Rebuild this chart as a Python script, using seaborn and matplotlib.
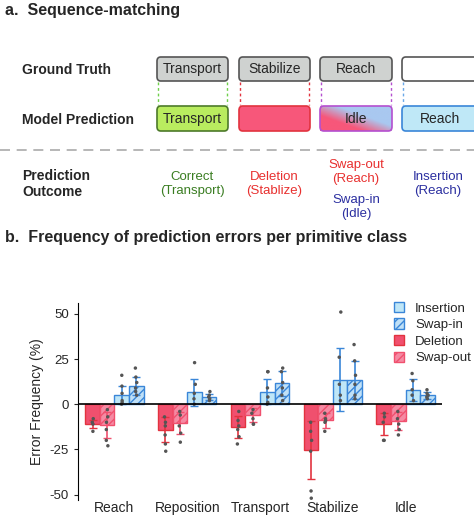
import matplotlib
matplotlib.use("Agg")
import matplotlib.pyplot as plt
import seaborn as sns
import pandas as pd
import numpy as np
from matplotlib.patches import FancyBboxPatch, Patch
from matplotlib.lines import Line2D
from matplotlib.colors import LinearSegmentedColormap

sns.set_style("white")
plt.rcParams['font.family'] = ['Liberation Sans', 'DejaVu Sans']

classes = ["Reach", "Reposition", "Transport", "Stabilize", "Idle"]
types = ["Deletion", "Swap-out", "Insertion", "Swap-in"]
means = {
    "Deletion": [-11, -14, -12.5, -25.5, -11],
    "Swap-out": [-11.5, -10.5, -6, -9, -9.5],
    "Insertion": [5, 6.5, 7, 13.5, 8],
    "Swap-in": [10, 4, 11.5, 13.5, 5],
}
errs = {
    "Deletion": [2, 7, 6, 16, 6],
    "Swap-out": [7, 6, 4, 4, 5],
    "Insertion": [5, 7.5, 7, 17.5, 6],
    "Swap-in": [5, 1.5, 7, 10.5, 2],
}
points = {
    "Deletion": [[-8, -10, -11, -15], [-7, -10, -12, -17, -22, -26], [-4, -9, -12, -14, -18, -22],
                 [-10, -15, -20, -26, -48, -52], [-5, -7, -10, -20, -20]],
    "Swap-out": [[-3, -7, -10, -14, -20, -23], [-4, -6, -12, -16, -21], [-3, -5, -8, -11, -11],
                 [-5, -8, -9, -10, -15], [-4, -8, -11, -14, -17]],
    "Insertion": [[0, 1, 2, 6, 10, 16], [0, 3, 6, 11, 23], [0, 1, 4, 9, 18, 18],
                  [2, 5, 11, 26, 51], [2, 5, 8, 13, 17]],
    "Swap-in": [[5, 7, 9, 12, 15, 20], [2, 3, 4, 5, 7], [2, 5, 9, 12, 18, 20],
                [3, 5, 11, 16, 24, 33], [3, 4, 5, 6, 8]],
}
face = {"Deletion": "#f0506e", "Swap-out": "#f58aa3", "Insertion": "#bfe6f7", "Swap-in": "#bfe0f7"}
edge = {"Deletion": "#e2333f", "Swap-out": "#f0506e", "Insertion": "#3a86d8", "Swap-in": "#3a86d8"}
hatch = {"Deletion": None, "Swap-out": "////", "Insertion": None, "Swap-in": "////"}

fig = plt.figure(figsize=(4.74, 5.2), dpi=100)
W, H = 474, 520
def fx(x): return x / W
def fy(y): return 1 - y / H

# ---------- panel a ----------
fig.text(fx(5), fy(10), "a.  Sequence-matching", fontsize=11.5, fontweight="bold", va="center")
fig.text(fx(22), fy(70), "Ground Truth", fontsize=10, fontweight="bold", va="center")
fig.text(fx(22), fy(120), "Model Prediction", fontsize=10, fontweight="bold", va="center")
fig.text(fx(22), fy(184), "Prediction\nOutcome", fontsize=10, fontweight="bold", va="center", linespacing=1.2)

xs = [(157, 228), (239, 310), (320, 392), (402, 478)]
gt = [("Transport", "#cfd2d0"), ("Stabilize", "#cfd2d0"), ("Reach", "#cfd2d0"), ("", "white")]
pred = [("Transport", "#b9ec5f", "#4d7a2a"), ("", "#f7577a", "#e2333f"), ("Idle", None, "#b44fd0"),
        ("Reach", "#bfe8f7", "#3a86d8")]
conn = ["#6fd04a", "#e2333f", "#b44fd0", "#6aa8e8"]

def box(x0, x1, y0, y1, fc, ec):
    p = FancyBboxPatch((fx(x0), fy(y1)), fx(x1) - fx(x0), fy(y0) - fy(y1),
                       boxstyle="round,pad=0,rounding_size=0.008", transform=fig.transFigure,
                       fc=fc if fc else "none", ec=ec, lw=1.2, zorder=3)
    fig.add_artist(p)
    return p

for (x0, x1), (t, c) in zip(xs, gt):
    box(x0, x1, 57, 81, c, "#555555")
    if t:
        fig.text(fx((x0 + x1) / 2), fy(69), t, ha="center", va="center", fontsize=10, zorder=4)
for i, ((x0, x1), (t, c, e)) in enumerate(zip(xs, pred)):
    if c is None:
        gax = fig.add_axes([fx(x0), fy(131), fx(x1) - fx(x0), fy(106) - fy(131)])
        g = np.linspace(0, 1, 60)
        X, Y = np.meshgrid(g, g)
        v = np.clip((X + (1 - Y)) - 0.6, 0, 0.6) / 0.6
        cm = LinearSegmentedColormap.from_list("g", ["#f7577a", "#a9c8f0"])
        gax.imshow(v, cmap=cm, aspect="auto", origin="upper")
        gax.axis("off")
        box(x0, x1, 106, 131, None, e)
    else:
        box(x0, x1, 106, 131, c, e)
    if t:
        fig.text(fx((x0 + x1) / 2), fy(119), t, ha="center", va="center", fontsize=10, zorder=5)
    for xx in (x0 + 1, x1 - 1):
        fig.add_artist(Line2D([fx(xx), fx(xx)], [fy(82), fy(105)], transform=fig.transFigure,
                              color=conn[i], ls=(0, (2, 2)), lw=1))
fig.add_artist(Line2D([fx(0), fx(474)], [fy(150), fy(150)], transform=fig.transFigure,
                      color="#aaaaaa", ls=(0, (6, 4)), lw=1.2))
outs = [(192, 184, "Correct\n(Transport)", "#3a7d22"), (274, 184, "Deletion\n(Stablize)", "#e8302f"),
        (356, 172, "Swap-out\n(Reach)", "#e8302f"), (356, 207, "Swap-in\n(Idle)", "#2b2fa0"),
        (438, 184, "Insertion\n(Reach)", "#2b2fa0")]
for x, y, t, c in outs:
    fig.text(fx(x), fy(y), t, ha="center", va="center", fontsize=9.5, color=c, linespacing=1.15)

fig.text(fx(5), fy(238), "b.  Frequency of prediction errors per primitive class", fontsize=11.5,
         fontweight="bold", va="center")

# ---------- panel b ----------
ax = fig.add_axes([fx(78), fy(500), fx(442) - fx(78), fy(303) - fy(500)])
rows = []
for t in types:
    for c, m in zip(classes, means[t]):
        rows.append({"cls": c, "type": t, "val": m})
df = pd.DataFrame(rows)
sns.barplot(data=df, x="cls", y="val", hue="type", order=classes, hue_order=types,
            errorbar=None, width=0.8, ax=ax, legend=False, palette=face, zorder=2)
for j, t in enumerate(types):
    cont = ax.containers[j]
    for i, p in enumerate(cont.patches):
        p.set_edgecolor(edge[t]); p.set_linewidth(1)
        if hatch[t]:
            p.set_hatch(hatch[t])
        p.set_facecolor(face[t])
        cx = p.get_x() + p.get_width() / 2
        ax.errorbar(cx, means[t][i], yerr=errs[t][i], color=edge[t], capsize=3, lw=1.2, zorder=3)
prow = []
for t in types:
    for c, pts in zip(classes, points[t]):
        for v in pts:
            prow.append({"cls": c, "type": t, "val": v})
pdf = pd.DataFrame(prow)
sns.stripplot(data=pdf, x="cls", y="val", hue="type", order=classes, hue_order=types, dodge=True,
              palette={t: "#555555" for t in types}, size=2.5, jitter=0.05, legend=False, ax=ax, zorder=4)
ax.axhline(0, color="black", lw=1.2, zorder=5)
ax.set_ylim(-53, 56)
ax.set_yticks([-50, -25, 0, 25, 50])
ax.set_yticklabels(["-50", "-25", "0", "25", "50"], fontsize=9.5)
ax.set_xlabel("")
ax.set_ylabel("Error Frequency (%)", fontsize=10)
ax.tick_params(axis="x", length=0, labelsize=10, pad=1)
ax.tick_params(axis="y", length=3, left=True)
for s in ["top", "right", "bottom"]:
    ax.spines[s].set_visible(False)
ax.spines["left"].set_color("black")
ax.set_xlim(-0.5, 4.5)

handles = [Patch(fc=face["Insertion"], ec=edge["Insertion"], label="Insertion"),
           Patch(fc=face["Swap-in"], ec=edge["Swap-in"], hatch="////", label="Swap-in"),
           Patch(fc=face["Deletion"], ec=edge["Deletion"], label="Deletion"),
           Patch(fc=face["Swap-out"], ec=edge["Swap-out"], hatch="////", label="Swap-out")]
fig.legend(handles=handles, loc="upper left", bbox_to_anchor=(fx(382), fy(290)), frameon=False,
           fontsize=9.5, handlelength=0.8, handleheight=0.8, handletextpad=0.8, labelspacing=0.3)

fig.savefig("out.png", dpi=100)
